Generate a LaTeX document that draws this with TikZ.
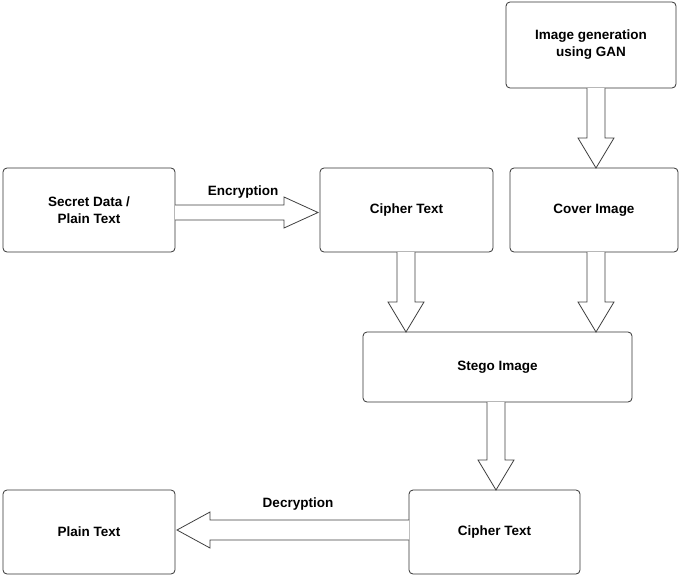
\documentclass[tikz,border=0pt]{standalone}
\usepackage{fontspec}
\setmainfont{Liberation Sans}
\begin{document}
\begin{tikzpicture}[x=1pt,y=-1pt,
 box/.style={draw=black!80,line width=0.8pt,rounded corners=4pt,align=center,font=\bfseries\fontsize{13.5}{17}\selectfont},
 harrow/.style={draw=black!75,line width=0.8pt,fill=white},
 lbl/.style={font=\bfseries\fontsize{13.5}{17}\selectfont}]
\useasboundingbox (0,0) rectangle (685,578);
\draw[box] (506,2) rectangle (676,88) node[midway] (gan) {Image generation\\using GAN};
\draw[box] (3,168) rectangle (175,252) node[midway] (secret) {Secret Data /\\Plain Text};
\draw[box] (320,168) rectangle (493,252) node[midway] (c1) {Cipher Text};
\draw[box] (510,168) rectangle (678,252) node[midway] (cover) {Cover Image};
\draw[box] (363,332) rectangle (632,402) node[midway] (stego) {Stego Image};
\draw[box] (409,490) rectangle (580,574) node[midway] (c2) {Cipher Text};
\draw[box] (3,490) rectangle (175,574) node[midway] (plain) {Plain Text};
% vertical hollow arrows: x-center, y-top, y-tip
\foreach \cx/\ya/\yb in {596/88/168, 406/252/332, 596/252/332, 496/402/490}{
 \draw[harrow] (\cx-9,\ya) -- (\cx-9,\yb-30) -- (\cx-18,\yb-30) -- (\cx,\yb) -- (\cx+18,\yb-30) -- (\cx+9,\yb-30) -- (\cx+9,\ya);
}
% Encryption
\draw[harrow] (175,205) -- (284,205) -- (284,197) -- (318,212.5) -- (284,228) -- (284,220) -- (175,220);
\node[lbl] (enc) at (243,192) {Encryption};
% Decryption
\draw[harrow] (409,520) -- (210,520) -- (210,512) -- (177,530) -- (210,548) -- (210,540) -- (409,540);
\node[lbl] (dec) at (298,504) {Decryption};
\end{tikzpicture}
\end{document}
